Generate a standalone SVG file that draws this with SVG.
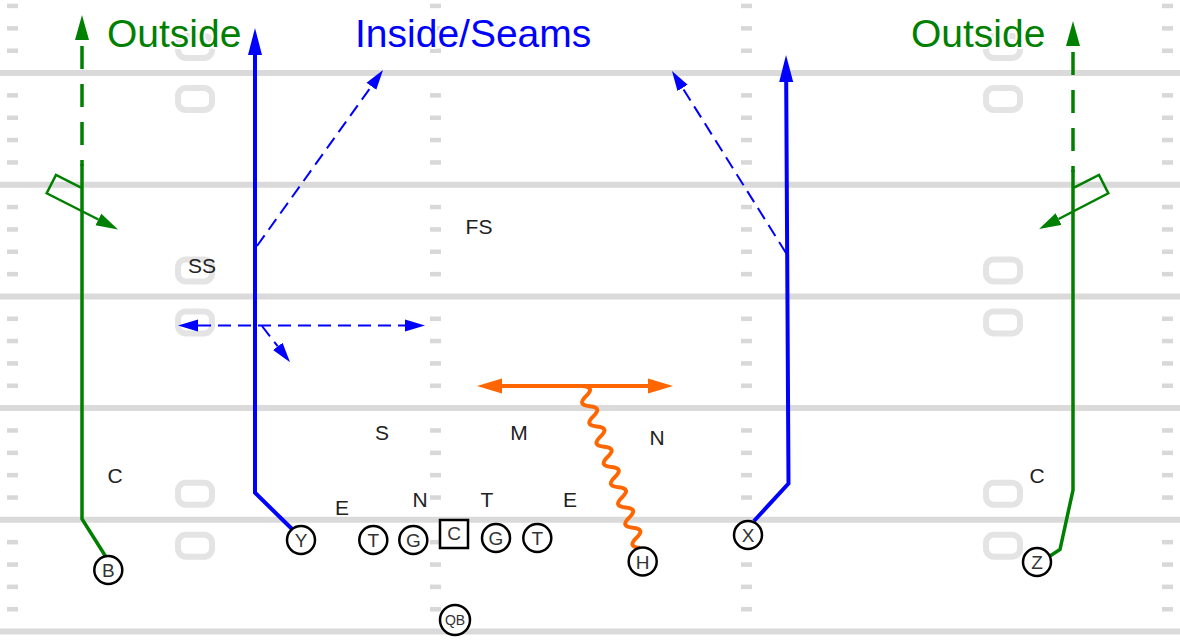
<svg xmlns="http://www.w3.org/2000/svg" xmlns:xlink="http://www.w3.org/1999/xlink" width="1180" height="641" viewBox="0 0 1180 641">
<style>
  .yard{stroke:#dadada;stroke-width:6;fill:none}
  .hash{fill:#d8d8d8}
  .zero{fill:none;stroke:#e4e4e4;stroke-width:6}
  .player{fill:#fff;stroke:#000;stroke-width:2.5}
  .plabel{font-family:"Liberation Sans",Arial,sans-serif;font-size:19px;fill:#333;text-anchor:middle}
  .def{font-family:"Liberation Sans",Arial,sans-serif;font-size:21px;fill:#222;text-anchor:middle}
  .title{font-family:"Liberation Sans",Arial,sans-serif;font-size:39px;stroke:#fff;stroke-width:4;paint-order:stroke;stroke-linejoin:round}
  .green{stroke:#008000;fill:none}
  .blue{stroke:#0000ff;fill:none}
  .orange{stroke:#ff6600;fill:none}
</style>
<defs>
  <marker id="gBig" markerUnits="userSpaceOnUse" viewBox="0 -8 26 16" markerWidth="26" markerHeight="16" refX="0" refY="0" orient="auto-start-reverse">
    <path d="M0,-7 L25,0 L0,7 Z" fill="#008000"/>
  </marker>
  <marker id="gSmall" markerUnits="userSpaceOnUse" viewBox="0 -7 23 14" markerWidth="23" markerHeight="14" refX="0" refY="0" orient="auto">
    <path d="M0,-6.5 L22,0 L0,6.5 Z" fill="#008000"/>
  </marker>
  <marker id="bBig" markerUnits="userSpaceOnUse" viewBox="0 -8 28 16" markerWidth="28" markerHeight="16" refX="0" refY="0" orient="auto">
    <path d="M0,-7 L27,0 L0,7 Z" fill="#0000ff"/>
  </marker>
  <marker id="bDash" markerUnits="userSpaceOnUse" viewBox="0 -7 21 14" markerWidth="21" markerHeight="14" refX="0" refY="0" orient="auto-start-reverse">
    <path d="M0,-6 L20,0 L0,6 Z" fill="#0000ff"/>
  </marker>
  <marker id="oArr" markerUnits="userSpaceOnUse" viewBox="0 -8 26 16" markerWidth="26" markerHeight="16" refX="0" refY="0" orient="auto-start-reverse">
    <path d="M0,-7.5 L25,0 L0,7.5 Z" fill="#ff6600"/>
  </marker>
  <g id="hashcol">
    <rect width="11" height="4.5" y="3.7"/>
    <rect width="11" height="4.5" y="26.1"/>
    <rect width="11" height="4.5" y="48.5"/>
    <rect width="11" height="4.5" y="93.1"/>
    <rect width="11" height="4.5" y="115.5"/>
    <rect width="11" height="4.5" y="137.8"/>
    <rect width="11" height="4.5" y="160.2"/>
    <rect width="11" height="4.5" y="204.8"/>
    <rect width="11" height="4.5" y="227.2"/>
    <rect width="11" height="4.5" y="249.5"/>
    <rect width="11" height="4.5" y="271.9"/>
    <rect width="11" height="4.5" y="316.5"/>
    <rect width="11" height="4.5" y="338.8"/>
    <rect width="11" height="4.5" y="361.2"/>
    <rect width="11" height="4.5" y="383.5"/>
    <rect width="11" height="4.5" y="428.2"/>
    <rect width="11" height="4.5" y="450.6"/>
    <rect width="11" height="4.5" y="472.9"/>
    <rect width="11" height="4.5" y="495.3"/>
    <rect width="11" height="4.5" y="539.9"/>
    <rect width="11" height="4.5" y="562.3"/>
    <rect width="11" height="4.5" y="584.6"/>
    <rect width="11" height="4.5" y="607.0"/>
  </g>
  <rect id="zero" width="34" height="22" rx="8"/>
</defs>

<rect width="1180" height="641" fill="#fff"/>

<g id="field">
  <g class="yard">
    <line x1="0" y1="73" x2="1180" y2="73"/>
    <line x1="0" y1="184.7" x2="1180" y2="184.7"/>
    <line x1="0" y1="296.4" x2="1180" y2="296.4"/>
    <line x1="0" y1="408.1" x2="1180" y2="408.1"/>
    <line x1="0" y1="519.8" x2="1180" y2="519.8"/>
    <line x1="0" y1="631.5" x2="1180" y2="631.5"/>
  </g>
  <g class="hash">
    <use xlink:href="#hashcol" x="7"/>
    <use xlink:href="#hashcol" x="430"/>
    <use xlink:href="#hashcol" x="741"/>
    <use xlink:href="#hashcol" x="1162"/>
  </g>
  <g class="zero">
    <use xlink:href="#zero" x="178" y="36"/>
    <use xlink:href="#zero" x="178" y="88"/>
    <use xlink:href="#zero" x="178" y="259.4"/>
    <use xlink:href="#zero" x="178" y="311.4"/>
    <use xlink:href="#zero" x="178" y="482.8"/>
    <use xlink:href="#zero" x="178" y="534.8"/>
    <use xlink:href="#zero" x="986" y="36"/>
    <use xlink:href="#zero" x="986" y="88"/>
    <use xlink:href="#zero" x="986" y="259.4"/>
    <use xlink:href="#zero" x="986" y="311.4"/>
    <use xlink:href="#zero" x="986" y="482.8"/>
    <use xlink:href="#zero" x="986" y="534.8"/>
  </g>
</g>

<g id="connectors">
  <!-- left outside (B) -->
  <path class="green" stroke-width="3.5" d="M106,557 L82,519 L82,164"/>
  <path class="green" stroke-width="3.5" stroke-dasharray="23 15" stroke-dashoffset="17" d="M82,166 L82,40" marker-end="url(#gBig)"/>
  <path class="green" stroke-width="2.5" d="M81,187.7 L56,175 L46.7,193.3 L98.4,219.5" marker-end="url(#gSmall)"/>
  <!-- right outside (Z) -->
  <path class="green" stroke-width="3.5" d="M1050,556 L1060,549.5 L1073,490 L1073,170"/>
  <path class="green" stroke-width="3.5" stroke-dasharray="23 15" stroke-dashoffset="17" d="M1073,172 L1073,46" marker-end="url(#gBig)"/>
  <path class="green" stroke-width="2.5" d="M1074,187.7 L1099,175 L1108.3,193.3 L1058.6,219" marker-end="url(#gSmall)"/>
  <!-- Y inside -->
  <path class="blue" stroke-width="4" d="M292,529 L255,492.7 L255,55" marker-end="url(#bBig)"/>
  <path class="blue" stroke-width="2" stroke-dasharray="13 7" d="M257,246 L371.4,86.3" marker-end="url(#bDash)"/>
  <path class="blue" stroke-width="2" stroke-dasharray="13 7" d="M198,325.5 L405,325.5" marker-start="url(#bDash)" marker-end="url(#bDash)"/>
  <path class="blue" stroke-width="2" stroke-dasharray="13 7" d="M262,326 L277.8,346.4" marker-end="url(#bDash)"/>
  <!-- X inside -->
  <path class="blue" stroke-width="4" d="M754,521 L788.5,483.5 L786.2,82" marker-end="url(#bBig)"/>
  <path class="blue" stroke-width="2" stroke-dasharray="13 7" d="M786,253 L682.6,87.9" marker-end="url(#bDash)"/>
  <!-- H -->
  <path class="orange" stroke-width="4" d="M502,386 L648,386" marker-start="url(#oArr)" marker-end="url(#oArr)"/>
  <path class="orange" stroke-width="4" d="M582.5,386 q13.1,1.05 3.594,10.125 t3.594,10.125 t3.594,10.125 t3.594,10.125 t3.594,10.125 t3.594,10.125 t3.594,10.125 t3.594,10.125 t3.594,10.125 t3.594,10.125 t3.594,10.125 t3.594,10.125 t3.594,10.125 t3.594,10.125 t3.594,10.125 t3.594,10.125"/>
</g>

<g id="labels">
  <text class="title" x="107" y="47" fill="#008000">Outside</text>
  <text class="title" x="355" y="47" fill="#0000ff">Inside/Seams</text>
  <text class="title" x="911" y="47" fill="#008000">Outside</text>
</g>

<g id="defense">
  <text class="def" x="479" y="234">FS</text>
  <text class="def" x="202" y="273">SS</text>
  <text class="def" x="382" y="440">S</text>
  <text class="def" x="519" y="440">M</text>
  <text class="def" x="657" y="445">N</text>
  <text class="def" x="342" y="515">E</text>
  <text class="def" x="420" y="507">N</text>
  <text class="def" x="487" y="507">T</text>
  <text class="def" x="570" y="507">E</text>
  <text class="def" x="115" y="483">C</text>
  <text class="def" x="1037" y="483">C</text>
</g>

<g id="node-B"><circle class="player" cx="108.3" cy="570" r="14"/><text class="plabel" x="108.3" y="577">B</text></g>
<g id="node-Y"><circle class="player" cx="301" cy="540" r="14"/><text class="plabel" x="301" y="547">Y</text></g>
<g id="node-LT"><circle class="player" cx="373.3" cy="540" r="14"/><text class="plabel" x="373.3" y="547">T</text></g>
<g id="node-LG"><circle class="player" cx="413.3" cy="540" r="14"/><text class="plabel" x="413.3" y="547">G</text></g>
<g id="node-C"><rect class="player" x="440" y="520" width="28" height="28"/><text class="plabel" x="454" y="540">C</text></g>
<g id="node-RG"><circle class="player" cx="496" cy="538" r="14"/><text class="plabel" x="496" y="545">G</text></g>
<g id="node-RT"><circle class="player" cx="537.3" cy="538" r="14"/><text class="plabel" x="537.3" y="545">T</text></g>
<g id="node-H"><circle class="player" cx="642.7" cy="561.5" r="14"/><text class="plabel" x="642.7" y="568.5">H</text></g>
<g id="node-X"><circle class="player" cx="748" cy="535" r="14"/><text class="plabel" x="748" y="542">X</text></g>
<g id="node-Z"><circle class="player" cx="1037" cy="562" r="14"/><text class="plabel" x="1037" y="569">Z</text></g>
<g id="node-QB"><circle class="player" cx="455" cy="620" r="15"/><text class="plabel" x="455" y="625" style="font-size:14px">QB</text></g>
</svg>
